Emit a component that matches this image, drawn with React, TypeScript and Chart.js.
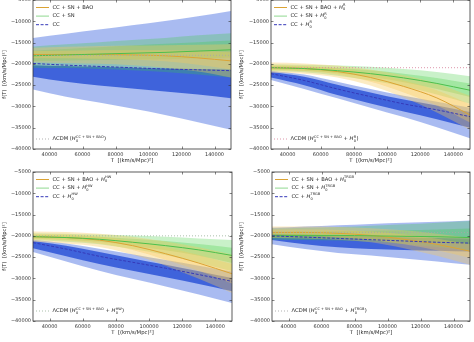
import React, { useEffect, useRef } from 'react';
import { Chart, registerables } from 'chart.js';
Chart.register(...registerables);

// ---------- shared axes ----------
const T_VALUES = [30000, 50000, 70000, 90000, 110000, 130000, 150000];
const X_TICKS = [40000, 60000, 80000, 100000, 120000, 140000];
const Y_TICKS = [-40000, -35000, -30000, -25000, -20000, -15000, -10000, -5000];
const X_TITLE = 'T  [(km/s/Mpc)²]';
const Y_TITLE = 'f(T)  [(km/s/Mpc)²]';

// ---------- panel 1 : CC / CC+SN / CC+SN+BAO ----------
const P1_LABELS = ['CC + SN + BAO', 'CC + SN', 'CC'];
const P1_LCDM_LABEL = 'ΛCDM (H_0^{CC + SN + BAO})';
const P1_LCDM = -18000;
const P1_OR_MEAN = [-17800, -17800, -17800, -17900, -18100, -18600, -19300];
const P1_OR_1UP = [-17000, -16900, -16800, -16800, -16800, -17000, -17300];
const P1_OR_1LO = [-18600, -18700, -18800, -19000, -19400, -20200, -21300];
const P1_OR_2UP = [-16200, -16000, -15800, -15700, -15600, -15500, -15400];
const P1_OR_2LO = [-19600, -19800, -20000, -20300, -20900, -21800, -23200];
const P1_GR_MEAN = [-18100, -17900, -17700, -17500, -17300, -17000, -16700];
const P1_GR_1UP = [-16900, -16500, -16100, -15700, -15300, -14900, -14500];
const P1_GR_1LO = [-19300, -19200, -19100, -19000, -18900, -18700, -18500];
const P1_GR_2UP = [-15900, -15400, -14900, -14400, -13900, -13300, -12800];
const P1_GR_2LO = [-20900, -21000, -21200, -21500, -21900, -22500, -23200];
const P1_BL_MEAN = [-19900, -20300, -20600, -20900, -21200, -21400, -21600];
const P1_BL_1UP = [-20300, -20500, -20700, -20900, -21100, -21200, -21300];
const P1_BL_1LO = [-23000, -24200, -25100, -25800, -26500, -27200, -28100];
const P1_BL_2UP = [-13900, -12900, -11950, -10940, -9920, -8830, -7580];
const P1_BL_2LO = [-26000, -27700, -29100, -30500, -32000, -33700, -35500];

// ---------- panel 2 : + H0^R ----------
const P2_LABELS = ['CC + SN + BAO + H_0^{R}', 'CC + SN + H_0^{R}', 'CC + H_0^{R}'];
const P2_LCDM_LABEL = 'ΛCDM (H_0^{CC + SN + BAO} + H_0^{R})';
const P2_LCDM = -20900;
const P2_OR_MEAN = [-20900, -21100, -21800, -23200, -25300, -28000, -32000];
const P2_OR_1UP = [-20300, -20500, -21100, -22200, -23900, -26200, -29500];
const P2_OR_1LO = [-21500, -21700, -22500, -24200, -26700, -29800, -33800];
const P2_OR_2UP = [-19700, -19900, -20400, -21300, -22700, -24600, -27500];
const P2_OR_2LO = [-22100, -22300, -23200, -25100, -27900, -31400, -35500];
const P2_GR_MEAN = [-20900, -21100, -21600, -22300, -23300, -24600, -26200];
const P2_GR_1UP = [-20500, -20600, -21000, -21500, -22300, -23300, -24600];
const P2_GR_1LO = [-21300, -21600, -22200, -23100, -24300, -25900, -27800];
const P2_GR_2UP = [-20100, -20200, -20400, -20700, -21200, -21900, -22900];
const P2_GR_2LO = [-21700, -22000, -22800, -23900, -25300, -27200, -29400];
const P2_BL_MEAN = [-22300, -23900, -25900, -27700, -29400, -30800, -32400];
const P2_BL_1UP = [-21900, -23000, -24900, -26700, -28400, -29800, -31300];
const P2_BL_1LO = [-23200, -25000, -27300, -29300, -31200, -33000, -35000];
const P2_BL_2UP = [-21600, -22500, -24200, -25900, -27500, -28900, -30300];
const P2_BL_2LO = [-23800, -25900, -28100, -30300, -32500, -34900, -37500];

// ---------- panel 3 : + H0^HW ----------
const P3_LABELS = ['CC + SN + BAO + H_0^{HW}', 'CC + SN + H_0^{HW}', 'CC + H_0^{HW}'];
const P3_LCDM_LABEL = 'ΛCDM (H_0^{CC + SN + BAO} + H_0^{HW})';
const P3_LCDM = -20000;
const P3_OR_MEAN = [-20200, -20400, -21000, -22300, -24200, -26400, -28900];
const P3_OR_1UP = [-19600, -19700, -20200, -21200, -22700, -24500, -26600];
const P3_OR_1LO = [-20800, -21100, -21800, -23300, -25600, -28200, -31200];
const P3_OR_2UP = [-19000, -19100, -19500, -20200, -21300, -22700, -24400];
const P3_OR_2LO = [-21400, -21800, -22600, -24400, -27000, -30100, -33400];
const P3_GR_MEAN = [-20200, -20400, -20800, -21500, -22300, -23300, -24600];
const P3_GR_1UP = [-19800, -19900, -20200, -20700, -21200, -21900, -22800];
const P3_GR_1LO = [-20600, -20900, -21400, -22300, -23400, -24700, -26400];
const P3_GR_2UP = [-19400, -19500, -19700, -19900, -20200, -20600, -21000];
const P3_GR_2LO = [-21000, -21400, -22000, -23100, -24500, -26300, -28300];
const P3_BL_MEAN = [-21600, -23100, -24800, -26200, -27600, -29100, -30700];
const P3_BL_1UP = [-21200, -22300, -23800, -25300, -26800, -28300, -29900];
const P3_BL_1LO = [-22900, -24800, -26600, -28200, -29700, -31300, -33000];
const P3_BL_2UP = [-20900, -21800, -23000, -24300, -25700, -27000, -28400];
const P3_BL_2LO = [-23800, -26000, -28200, -30100, -31900, -33800, -35800];

// ---------- panel 4 : + H0^TRGB ----------
const P4_LABELS = ['CC + SN + BAO + H_0^{TRGB}', 'CC + SN + H_0^{TRGB}', 'CC + H_0^{TRGB}'];
const P4_LCDM_LABEL = 'ΛCDM (H_0^{CC + SN + BAO} + H_0^{TRGB})';
const P4_LCDM = -19200;
const P4_OR_MEAN = [-19200, -19200, -19400, -19900, -20800, -22000, -23600];
const P4_OR_1UP = [-18500, -18500, -18600, -19000, -19700, -20700, -22000];
const P4_OR_1LO = [-19900, -20000, -20300, -20900, -22000, -23400, -25200];
const P4_OR_2UP = [-17800, -17800, -17900, -18200, -18700, -19500, -20500];
const P4_OR_2LO = [-20500, -20600, -20900, -21500, -22900, -24700, -26800];
const P4_GR_MEAN = [-19900, -19900, -19900, -20000, -20100, -20200, -20400];
const P4_GR_1UP = [-19100, -19000, -18900, -18800, -18700, -18500, -18300];
const P4_GR_1LO = [-20500, -20600, -20700, -20900, -21200, -21600, -22000];
const P4_GR_2UP = [-18300, -18100, -17900, -17600, -17300, -16900, -16500];
const P4_GR_2LO = [-20900, -21000, -21100, -21400, -21900, -22600, -23500];
const P4_BL_MEAN = [-20000, -20300, -20600, -20900, -21200, -21500, -21700];
const P4_BL_1UP = [-19500, -19700, -19900, -20100, -20300, -20500, -20600];
const P4_BL_1LO = [-21000, -22000, -22700, -23100, -23300, -23500, -23700];
const P4_BL_2UP = [-18100, -17800, -17500, -17200, -16900, -16700, -16400];
const P4_BL_2LO = [-22000, -23100, -24000, -24600, -25300, -26000, -26800];

// ---------- styles ----------
const FONT = '"DejaVu Sans", sans-serif';
const C_OR_LINE = '#dba334';
const C_GR_LINE = '#4cbf4c';
const C_BL_LINE = '#3438b8';
const C_OR_FILL = 'rgba(246,200,90,0.36)';
const C_GR_FILL = 'rgba(60,205,60,0.28)';
const C_BL1_FILL = 'rgba(40,80,215,0.82)';
const C_BL2_FILL = 'rgba(65,105,225,0.45)';

type Series = { mean: number[]; u1: number[]; l1: number[]; u2: number[]; l2: number[] };

const PANELS = [
  { left: 0, top: -6, h: 177, yW: 33, padR: 6, xH: 22, tPad: 6.8, labels: P1_LABELS, lcdmLabel: P1_LCDM_LABEL, lcdm: P1_LCDM, lcdmColor: '#a8a8a8',
    or: { mean: P1_OR_MEAN, u1: P1_OR_1UP, l1: P1_OR_1LO, u2: P1_OR_2UP, l2: P1_OR_2LO },
    gr: { mean: P1_GR_MEAN, u1: P1_GR_1UP, l1: P1_GR_1LO, u2: P1_GR_2UP, l2: P1_GR_2LO },
    bl: { mean: P1_BL_MEAN, u1: P1_BL_1UP, l1: P1_BL_1LO, u2: P1_BL_2UP, l2: P1_BL_2LO } },
  { left: 237, top: -6, h: 177, yW: 34, padR: 4, xH: 22, tPad: 6.8, labels: P2_LABELS, lcdmLabel: P2_LCDM_LABEL, lcdm: P2_LCDM, lcdmColor: '#d98aa0',
    or: { mean: P2_OR_MEAN, u1: P2_OR_1UP, l1: P2_OR_1LO, u2: P2_OR_2UP, l2: P2_OR_2LO },
    gr: { mean: P2_GR_MEAN, u1: P2_GR_1UP, l1: P2_GR_1LO, u2: P2_GR_2UP, l2: P2_GR_2LO },
    bl: { mean: P2_BL_MEAN, u1: P2_BL_1UP, l1: P2_BL_1LO, u2: P2_BL_2UP, l2: P2_BL_2LO } },
  { left: 0, top: 166, h: 176, yW: 33, padR: 5, xH: 21, tPad: 5.8, labels: P3_LABELS, lcdmLabel: P3_LCDM_LABEL, lcdm: P3_LCDM, lcdmColor: '#a0b8a0',
    or: { mean: P3_OR_MEAN, u1: P3_OR_1UP, l1: P3_OR_1LO, u2: P3_OR_2UP, l2: P3_OR_2LO },
    gr: { mean: P3_GR_MEAN, u1: P3_GR_1UP, l1: P3_GR_1LO, u2: P3_GR_2UP, l2: P3_GR_2LO },
    bl: { mean: P3_BL_MEAN, u1: P3_BL_1UP, l1: P3_BL_1LO, u2: P3_BL_2UP, l2: P3_BL_2LO } },
  { left: 237, top: 166, h: 176, yW: 35, padR: 4, xH: 21, tPad: 5.8, labels: P4_LABELS, lcdmLabel: P4_LCDM_LABEL, lcdm: P4_LCDM, lcdmColor: '#a8a8a8',
    or: { mean: P4_OR_MEAN, u1: P4_OR_1UP, l1: P4_OR_1LO, u2: P4_OR_2UP, l2: P4_OR_2LO },
    gr: { mean: P4_GR_MEAN, u1: P4_GR_1UP, l1: P4_GR_1LO, u2: P4_GR_2UP, l2: P4_GR_2LO },
    bl: { mean: P4_BL_MEAN, u1: P4_BL_1UP, l1: P4_BL_1LO, u2: P4_BL_2UP, l2: P4_BL_2LO } },
];

const pts = (ys: number[]) => ys.map((y, i) => ({ x: T_VALUES[i], y }));

function drawRich(ctx: CanvasRenderingContext2D, text: string, x: number, y: number, size: number, color: string) {
  const re = /H_0\^\{([^}]*)\}/g;
  let last = 0;
  let cx = x;
  let m: RegExpExecArray | null;
  ctx.fillStyle = color;
  ctx.textBaseline = 'middle';
  ctx.textAlign = 'left';
  const base = `${size}px ${FONT}`;
  const ital = `italic ${size}px ${FONT}`;
  const small = `${(size * 0.68).toFixed(2)}px ${FONT}`;
  while ((m = re.exec(text))) {
    const pre = text.slice(last, m.index);
    ctx.font = base;
    ctx.fillText(pre, cx, y);
    cx += ctx.measureText(pre).width;
    ctx.font = ital;
    ctx.fillText('H', cx, y);
    cx += ctx.measureText('H').width + size * 0.04;
    ctx.font = small;
    ctx.fillText('0', cx, y + size * 0.38);
    ctx.fillText(m[1], cx, y - size * 0.42);
    cx += Math.max(ctx.measureText('0').width, ctx.measureText(m[1]).width) + size * 0.05;
    last = m.index + m[0].length;
  }
  const rest = text.slice(last);
  ctx.font = base;
  ctx.fillText(rest, cx, y);
}

function Panel({ cfg }: { cfg: any }) {
  const ref = useRef<HTMLCanvasElement>(null);
  useEffect(() => {
    const datasets: any[] = [];
    const addLine = (ys: number[], color: string, dash: number[], order: number, width: number) => {
      datasets.push({ data: pts(ys), borderColor: color, borderWidth: width, borderDash: dash, pointRadius: 0, fill: false, order, tension: 0.4, cubicInterpolationMode: 'monotone' });
    };
    const addBand = (up: number[], lo: number[], color: string, order: number) => {
      const idx = datasets.length;
      datasets.push({ data: pts(up), borderWidth: 0, pointRadius: 0, fill: { target: idx + 1 }, backgroundColor: color, order, tension: 0.4, cubicInterpolationMode: 'monotone' });
      datasets.push({ data: pts(lo), borderWidth: 0, pointRadius: 0, fill: false, order, tension: 0.4, cubicInterpolationMode: 'monotone' });
    };
    const s = cfg as { or: Series; gr: Series; bl: Series; lcdm: number; lcdmColor: string };
    addLine(T_VALUES.map(() => s.lcdm), s.lcdmColor, [1, 2], 0, 0.9);
    addLine(s.bl.mean, C_BL_LINE, [3, 1.6], 1, 1);
    addLine(s.gr.mean, C_GR_LINE, [], 2, 1);
    addLine(s.or.mean, C_OR_LINE, [], 3, 1);
    addBand(s.or.u1, s.or.l1, C_OR_FILL, 4);
    addBand(s.or.u2, s.or.l2, C_OR_FILL, 5);
    addBand(s.gr.u1, s.gr.l1, C_GR_FILL, 6);
    addBand(s.gr.u2, s.gr.l2, C_GR_FILL, 7);
    addBand(s.bl.u1, s.bl.l1, C_BL1_FILL, 8);
    addBand(s.bl.u2, s.bl.l2, C_BL2_FILL, 9);

    const decor = {
      id: 'decor',
      afterDraw(chart: any) {
        const { ctx, chartArea: a, scales } = chart;
        ctx.save();
        ctx.strokeStyle = '#333';
        ctx.lineWidth = 0.8;
        ctx.strokeRect(a.left, a.top, a.right - a.left, a.bottom - a.top);
        ctx.lineWidth = 0.6;
        ctx.beginPath();
        X_TICKS.forEach((v) => {
          const px = Math.round(scales.x.getPixelForValue(v)) + 0.5;
          ctx.moveTo(px, a.bottom); ctx.lineTo(px, a.bottom - 2.5);
          ctx.moveTo(px, a.top); ctx.lineTo(px, a.top + 2.5);
        });
        Y_TICKS.forEach((v) => {
          const py = Math.round(scales.y.getPixelForValue(v)) + 0.5;
          ctx.moveTo(a.left, py); ctx.lineTo(a.left + 2.5, py);
          ctx.moveTo(a.right, py); ctx.lineTo(a.right - 2.5, py);
        });
        ctx.stroke();
        // legend top-left
        const items = [
          { label: cfg.labels[0], color: C_OR_LINE, dash: [] as number[] },
          { label: cfg.labels[1], color: '#8fd88f', dash: [] as number[] },
          { label: cfg.labels[2], color: C_BL_LINE, dash: [3, 1.6] },
        ];
        items.forEach((it, i) => {
          const y = a.top + 7.5 + i * 8.6;
          ctx.beginPath();
          ctx.setLineDash(it.dash);
          ctx.strokeStyle = it.color;
          ctx.lineWidth = 1;
          ctx.moveTo(a.left + 3, y); ctx.lineTo(a.left + 16, y);
          ctx.stroke();
          ctx.setLineDash([]);
          drawRich(ctx, it.label, a.left + 19.5, y, 5.2, '#222');
        });
        // LCDM legend bottom-left
        const ly = a.bottom - 10;
        ctx.beginPath();
        ctx.setLineDash([1, 2]);
        ctx.strokeStyle = cfg.lcdmColor;
        ctx.lineWidth = 0.9;
        ctx.moveTo(a.left + 3, ly); ctx.lineTo(a.left + 16, ly);
        ctx.stroke();
        ctx.setLineDash([]);
        drawRich(ctx, cfg.lcdmLabel, a.left + 19.5, ly, 5.2, '#222');
        ctx.restore();
      },
    };

    const chart = new Chart(ref.current as HTMLCanvasElement, {
      type: 'line',
      data: { datasets },
      plugins: [decor],
      options: {
        responsive: false,
        animation: false,
        events: [],
        layout: { padding: { top: 6, right: cfg.padR, left: 0, bottom: 0 } },
        plugins: { legend: { display: false }, tooltip: { enabled: false } },
        scales: {
          x: {
            type: 'linear', min: 30000, max: 150000,
            grid: { display: false, drawTicks: false },
            border: { display: false },
            afterBuildTicks: (sc: any) => { sc.ticks = X_TICKS.map((v) => ({ value: v })); },
            afterFit: (sc: any) => { sc.height = cfg.xH; },
            ticks: { autoSkip: false, maxRotation: 0, padding: 2.5, color: '#333', font: { family: FONT, size: 5 }, callback: (v: any) => String(v) },
            title: { display: true, text: X_TITLE, color: '#222', font: { family: FONT, size: 5.3 }, padding: { top: 0, bottom: cfg.tPad } },
          },
          y: {
            type: 'linear', min: -40000, max: -5000,
            grid: { display: false, drawTicks: false },
            border: { display: false },
            afterBuildTicks: (sc: any) => { sc.ticks = Y_TICKS.map((v) => ({ value: v })); },
            afterFit: (sc: any) => { sc.width = cfg.yW; },
            ticks: { autoSkip: false, padding: 2, color: '#333', font: { family: FONT, size: 5 }, callback: (v: any) => (v < 0 ? '−' + Math.abs(v) : String(v)) },
            title: { display: true, text: Y_TITLE, color: '#222', font: { family: FONT, size: 5.3 }, padding: { top: 1, bottom: 0 } },
          },
        },
      } as any,
    });
    return () => chart.destroy();
  }, []);
  return (
    <canvas
      ref={ref}
      width={237}
      height={cfg.h}
      style={{ position: 'absolute', left: cfg.left, top: cfg.top, width: 237, height: cfg.h }}
    />
  );
}

export default function App() {
  return (
    <div style={{ position: 'fixed', left: 0, top: 0, width: 474, height: 342, overflow: 'hidden', background: '#fff' }}>
      {PANELS.map((p, i) => (
        <Panel key={i} cfg={p} />
      ))}
    </div>
  );
}
